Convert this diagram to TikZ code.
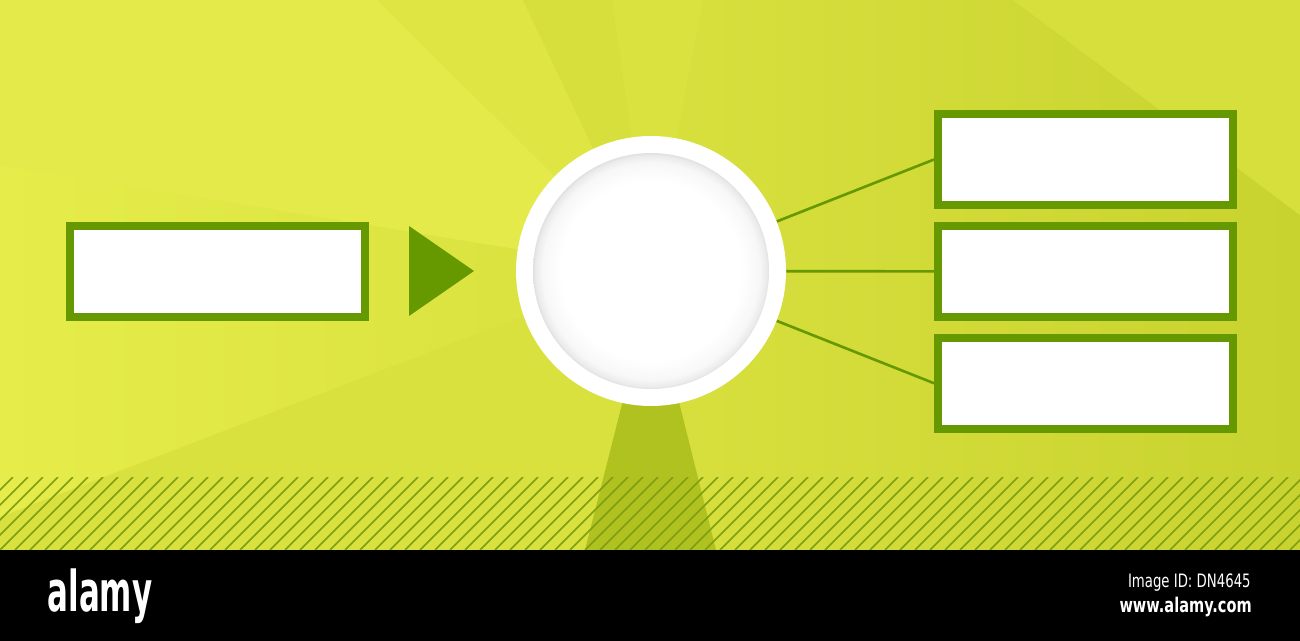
\documentclass[tikz,border=0pt]{standalone}
\usepackage{fontspec}
\newfontfamily\schmal{DejaVu Sans}[FakeStretch=0.72]
\newfontfamily\logoschrift{DejaVu Sans}[FakeStretch=0.55]
\usetikzlibrary{positioning}
\definecolor{laub}{HTML}{669900}
\definecolor{grundhell}{HTML}{E6ED4B}
\definecolor{grunddunkel}{HTML}{C9D330}
\definecolor{schraffgrau}{HTML}{809E12}
\pgfdeclareradialshading{nabeschatten}{\pgfpointorigin}{color(0bp)=(white); color(19bp)=(white); color(23bp)=(black!3); color(24.5bp)=(black!8); color(25bp)=(black!12); color(50bp)=(black!12)}
\tikzset{
    %Define style for boxes
    kasten/.style={
           rectangle,
           draw=laub, line width=4.5pt,
           fill=white,
           minimum width=5.9cm,
           minimum height=1.82cm},
    % Define line style
    linie/.style={
           draw=laub,
           line width=1.5pt},
    % Define hub style
    nabe/.style={circle,fill=white,inner sep=0pt,minimum size=5.4cm},
    nabekern/.style={circle,shading=nabeschatten,inner sep=0pt,minimum size=4.72cm},
    schraffur/.style={draw=schraffgrau,line width=0.85pt},
    weiss/.style={text=white,inner sep=0pt}
}

\begin{document}
\begin{tikzpicture}[x=0.02cm,y=-0.02cm,node distance=0.26cm]
  \useasboundingbox (0,0) rectangle (1300,641);
  % background rays
  \shade[left color=grundhell,right color=grunddunkel] (0,0) rectangle (1300,550);
  \fill[color={rgb,255:red,228;green,234;blue,73}] (0,0) -- (377,0) -- (651,271) -- (0,165) -- cycle;
  \fill[color={rgb,255:red,223;green,230;blue,68}] (377,0) -- (523,0) -- (651,271) -- cycle;
  \fill[color={rgb,255:red,214;green,223;blue,59}] (523,0) -- (612,0) -- (651,271) -- cycle;
  \fill[color={rgb,255:red,218;green,226;blue,63}] (612,0) -- (703,0) -- (651,271) -- cycle;
  \fill[color={rgb,255:red,215;green,223;blue,60}] (1013,0) -- (1300,0) -- (1300,215) -- cycle;
  \fill[color={rgb,255:red,217;green,225;blue,62}] (0,517) -- (651,267) -- (600,550) -- (0,550) -- cycle;
  \fill[color={rgb,255:red,176;green,194;blue,31}] (651,290) -- (716,550) -- (585,550) -- cycle;
  % hatching
  \begin{scope}
    \clip (0,477) rectangle (1300,550);
    \foreach \i in {-90,-75,...,1300}
      \draw[schraffur] (\i,550) -- ++(73,-73);
  \end{scope}

  \node[kasten] (src) at (217.5,271.5) {};
  \fill[laub] (409,226) -- (474,271) -- (409,316) -- cycle;
  \node[nabe] (hub) at (651,271) {};
  \node[nabekern] (kern) at (hub) {};

  \node[kasten] (out1) at (1085.5,159.5) {};
  \node[kasten] (out2) [below=of out1] {};
  \node[kasten] (out3) [below=of out2] {};
  \path[linie]
    (hub) edge (out1.west)
    (hub) edge (out2.west)
    (hub) edge (out3.west);

  % bottom bar
  \fill[black] (0,550) rectangle (1300,641);
  \node[weiss,font=\logoschrift\bfseries\fontsize{32}{32}\selectfont] (logo) at (100,596) {alamy};
  \node[weiss,font=\schmal\fontsize{10.5}{11}\selectfont,anchor=east] (bildnr) at (1251,583) {Image ID: DN4645};
  \node[weiss,font=\schmal\bfseries\fontsize{11.5}{12}\selectfont,anchor=east] (netz) at (1252,607) {www.alamy.com};
\end{tikzpicture}
\end{document}
